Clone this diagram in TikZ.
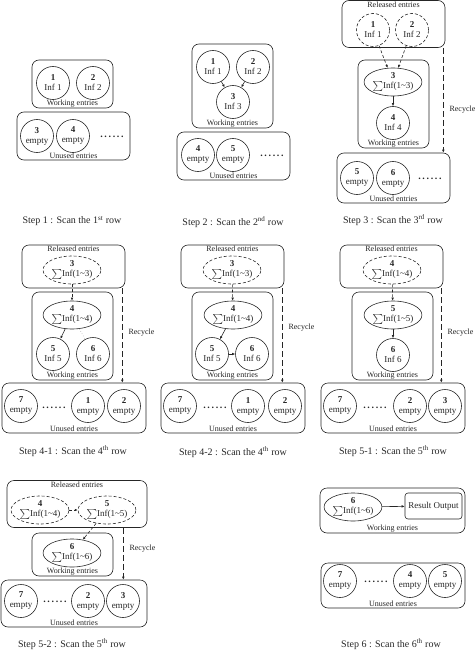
\documentclass[tikz,border=0pt]{standalone}
\usepackage{fontspec}
\setmainfont{Liberation Serif}
\usetikzlibrary{positioning,shapes.geometric,arrows.meta}

\begin{document}
\begin{tikzpicture}[x=1pt,y=-1pt,line width=0.6pt,black!85,
  box/.style={draw,rounded corners=7pt,inner sep=0pt},
  ent/.style={draw,circle,minimum size=33pt,inner sep=0pt,align=center,font=\fontsize{9}{10}\selectfont},
  gone/.style={ent,dash pattern=on 3pt off 2pt},
  sument/.style={draw,ellipse,minimum width=57pt,minimum height=28pt,inner sep=0pt,align=center,font=\fontsize{9}{10}\selectfont},
  gonesum/.style={sument,dash pattern=on 3pt off 2pt},
  lbl/.style={inner sep=1pt,font=\fontsize{8}{9}\selectfont},
  etc/.style={inner sep=0pt,font=\fontsize{10}{10}\selectfont\bfseries},
  arr/.style={-{Latex[length=3pt,width=2.6pt]}},
  darr/.style={arr,dash pattern=on 3pt off 2pt},
  recyc/.style={arr,dash pattern=on 6pt off 3pt},
  steptxt/.style={font=\fontsize{10}{12}\selectfont}]
\useasboundingbox (0,0) rectangle (474,650);
\node[box,minimum width=81pt,minimum height=48pt] (aW) at (72.5,84) {};
\node[lbl,above=0pt of aW.south] (aWl) {Working entries};
\node[ent] (a1) at (53,83) {\textbf{1}\\Inf 1};
\node[ent] (a2) at (93,83) {\textbf{2}\\Inf 2};
\node[box,minimum width=113pt,minimum height=48pt] (aU) at (73.5,136) {};
\node[lbl,above=0pt of aU.south] (aUl) {Unused entries};
\node[ent] (a3) at (37,136) {\textbf{3}\\empty};
\node[ent] (a4) at (73,136) {\textbf{4}\\empty};
\node[etc] (aE) at (112,137) {.\,.\,.\,.\,.\,.};
\node[steptxt] (aS) at (72,221) {Step 1 : Scan the 1\textsuperscript{st} row};

\node[box,minimum width=81pt,minimum height=84pt] (bW) at (232.5,86) {};
\node[lbl,above=0pt of bW.south] (bWl) {Working entries};
\node[ent] (b1) at (213,67) {\textbf{1}\\Inf 1};
\node[ent] (b2) at (253,67) {\textbf{2}\\Inf 2};
\node[ent] (b3) at (233,102) {\textbf{3}\\Inf 3};
\draw[arr] (b1) -- (b3);
\draw[arr] (b2) -- (b3);
\node[box,minimum width=113pt,minimum height=48pt] (bU) at (233.5,156) {};
\node[lbl,above=0pt of bU.south] (bUl) {Unused entries};
\node[ent] (b4) at (198,155) {\textbf{4}\\empty};
\node[ent] (b5) at (233,155) {\textbf{5}\\empty};
\node[etc] (bE) at (272,156) {.\,.\,.\,.\,.\,.};
\node[steptxt] (bS) at (233,222) {Step 2 : Scan the 2\textsuperscript{nd} row};

\node[box,minimum width=103pt,minimum height=47pt] (cR) at (393.5,24) {};
\node[lbl,below=0pt of cR.north] (cRl) {Released entries};
\node[gone] (c1) at (373,30) {\textbf{1}\\Inf 1};
\node[gone] (c2) at (412,30) {\textbf{2}\\Inf 2};
\node[box,minimum width=71pt,minimum height=88pt] (cW) at (393.5,104) {};
\node[lbl,above=0pt of cW.south] (cWl) {Working entries};
\node[sument] (c3) at (393,82) {\textbf{3}\\$\sum$Inf(1\textasciitilde3)};
\node[ent] (c4) at (393,123) {\textbf{4}\\Inf 4};
\draw[darr] (c1) -- (c3);
\draw[darr] (c2) -- (c3);
\draw[arr] (c3) -- (c4);
\node[box,minimum width=113pt,minimum height=50pt] (cU) at (393.5,178) {};
\node[lbl,above=0pt of cU.south] (cUl) {Unused entries};
\node[ent] (c5) at (357,178) {\textbf{5}\\empty};
\node[ent] (c6) at (393,178) {\textbf{6}\\empty};
\node[etc] (cE) at (430,179) {.\,.\,.\,.\,.\,.};
\coordinate (cT) at ([xshift=-2pt]cR.south east);
\draw[recyc] (cT) -- node[lbl,pos=.59,right=5pt] (cY) {Recycle} (cT |- cU.north);
\node[steptxt] (cS) at (393,220) {Step 3 : Scan the 3\textsuperscript{rd} row};

\node[box,minimum width=103pt,minimum height=43pt] (dR) at (73.5,266.5) {};
\node[lbl,below=0pt of dR.north] (dRl) {Released entries};
\node[gonesum] (d3) at (72,270) {\textbf{3}\\$\sum$Inf(1\textasciitilde3)};
\node[box,minimum width=81pt,minimum height=88pt] (dW) at (72.5,336) {};
\node[lbl,above=0pt of dW.south] (dWl) {Working entries};
\node[sument] (d4) at (72,315) {\textbf{4}\\$\sum$Inf(1\textasciitilde4)};
\node[ent] (d5) at (53,354) {\textbf{5}\\Inf 5};
\node[ent] (d6) at (93,354) {\textbf{6}\\Inf 6};
\draw[darr] (d3) -- (d4);
\draw[arr] (d4) -- (d5);
\draw[black!35,dotted] (d4) -- (d6);
\node[box,minimum width=144pt,minimum height=50pt] (dU) at (74,408) {};
\node[lbl,above=0pt of dU.south] (dUl) {Unused entries};
\node[ent] (d7) at (21,406) {\textbf{7}\\empty};
\node[etc] (dE) at (54,408) {.\,.\,.\,.\,.\,.};
\node[ent] (d1) at (88,406) {\textbf{1}\\empty};
\node[ent] (d2) at (124,406) {\textbf{2}\\empty};
\coordinate (dT) at ([xshift=-3pt]dR.south east);
\draw[recyc] (dT) -- node[lbl,pos=.47,right=5pt] (dY) {Recycle} (dT |- dU.north);
\node[steptxt] (dS) at (73,451) {Step 4-1 : Scan the 4\textsuperscript{th} row};

\node[box,minimum width=103pt,minimum height=43pt] (eR) at (232.5,266.5) {};
\node[lbl,below=0pt of eR.north] (eRl) {Released entries};
\node[gonesum] (e3) at (232,270) {\textbf{3}\\$\sum$Inf(1\textasciitilde3)};
\node[box,minimum width=81pt,minimum height=88pt] (eW) at (232.5,336) {};
\node[lbl,above=0pt of eW.south] (eWl) {Working entries};
\node[sument] (e4) at (233,315) {\textbf{4}\\$\sum$Inf(1\textasciitilde4)};
\node[ent] (e5) at (212,354) {\textbf{5}\\Inf 5};
\node[ent] (e6) at (252,354) {\textbf{6}\\Inf 6};
\draw[darr] (e3) -- (e4);
\draw[arr] (e4) -- (e5);
\draw[arr] (e5) -- (e6);
\node[box,minimum width=144pt,minimum height=50pt] (eU) at (233,408) {};
\node[lbl,above=0pt of eU.south] (eUl) {Unused entries};
\node[ent] (e7) at (180,406) {\textbf{7}\\empty};
\node[etc] (eE) at (215,408) {.\,.\,.\,.\,.\,.};
\node[ent] (e1) at (248,406) {\textbf{1}\\empty};
\node[ent] (e2) at (285,406) {\textbf{2}\\empty};
\coordinate (eT) at ([xshift=-2pt]eR.south east);
\draw[recyc] (eT) -- node[lbl,pos=.42,right=5pt] (eY) {Recycle} (eT |- eU.north);
\node[steptxt] (eS) at (233,452) {Step 4-2 : Scan the 4\textsuperscript{th} row};

\node[box,minimum width=103pt,minimum height=43pt] (fR) at (391.5,266.5) {};
\node[lbl,below=0pt of fR.north] (fRl) {Released entries};
\node[gonesum] (f4) at (392,270) {\textbf{4}\\$\sum$Inf(1\textasciitilde4)};
\node[box,minimum width=81pt,minimum height=88pt] (fW) at (392.5,336) {};
\node[lbl,above=0pt of fW.south] (fWl) {Working entries};
\node[sument] (f5) at (393,315) {\textbf{5}\\$\sum$Inf(1\textasciitilde5)};
\node[ent] (f6) at (393,355) {\textbf{6}\\Inf 6};
\draw[darr] (f4) -- (f5);
\draw[arr] (f5) -- (f6);
\node[box,minimum width=144pt,minimum height=50pt] (fU) at (393,408) {};
\node[lbl,above=0pt of fU.south] (fUl) {Unused entries};
\node[ent] (f7) at (340,406) {\textbf{7}\\empty};
\node[etc] (fE) at (375,408) {.\,.\,.\,.\,.\,.};
\node[ent] (f2) at (410,406) {\textbf{2}\\empty};
\node[ent] (f3) at (445,406) {\textbf{3}\\empty};
\coordinate (fT) at ([xshift=-2pt]fR.south east);
\draw[recyc] (fT) -- node[lbl,pos=.47,right=5pt] (fY) {Recycle} (fT |- fU.north);
\node[steptxt] (fS) at (393,451) {Step 5-1 : Scan the 5\textsuperscript{th} row};

\node[box,minimum width=140pt,minimum height=47pt] (gR) at (77,504) {};
\node[lbl,below=0pt of gR.north] (gRl) {Released entries};
\node[gonesum,minimum width=55pt] (g4) at (40,510) {\textbf{4}\\$\sum$Inf(1\textasciitilde4)};
\node[gonesum,minimum width=55pt] (g5) at (107,510) {\textbf{5}\\$\sum$Inf(1\textasciitilde5)};
\node[box,minimum width=81pt,minimum height=43pt] (gW) at (72.5,554.5) {};
\node[lbl,above=0pt of gW.south] (gWl) {Working entries};
\node[sument] (g6) at (72,553) {\textbf{6}\\$\sum$Inf(1\textasciitilde6)};
\draw[darr] (g4) -- (g5);
\draw[darr] (g5) -- (g6);
\node[box,minimum width=146pt,minimum height=47pt] (gU) at (74,603.5) {};
\node[lbl,above=0pt of gU.south] (gUl) {Unused entries};
\node[ent] (g7) at (21,601) {\textbf{7}\\empty};
\node[etc] (gE) at (55,602) {.\,.\,.\,.\,.\,.};
\node[ent] (g2) at (88,601) {\textbf{2}\\empty};
\node[ent] (g3) at (123,601) {\textbf{3}\\empty};
\coordinate (gT) at ([xshift=-24pt]gR.south east);
\draw[recyc] (gT) -- node[lbl,pos=.4,right=5pt] (gY) {Recycle} (gT |- gU.north);
\node[steptxt] (gS) at (72,644) {Step 5-2 : Scan the 5\textsuperscript{th} row};

\node[box,minimum width=145pt,minimum height=45pt] (hW) at (392.5,510.5) {};
\node[lbl,above=0pt of hW.south] (hWl) {Working entries};
\node[sument,minimum width=52pt] (h6) at (353,507) {\textbf{6}\\$\sum$Inf(1\textasciitilde6)};
\node[draw,rounded corners=3pt,minimum width=57pt,minimum height=26pt,font=\fontsize{9}{10}\selectfont] (hO) at (433.5,506) {Result Output};
\draw[arr] (h6) -- (hO);
\node[box,minimum width=144pt,minimum height=45pt] (hU) at (393,585.5) {};
\node[lbl,above=0pt of hU.south] (hUl) {Unused entries};
\node[ent] (h7) at (340,581) {\textbf{7}\\empty};
\node[etc] (hE) at (376,582) {.\,.\,.\,.\,.\,.};
\node[ent] (h4) at (410,581) {\textbf{4}\\empty};
\node[ent] (h5) at (445,581) {\textbf{5}\\empty};
\node[steptxt] (hS) at (391,644) {Step 6 : Scan the 6\textsuperscript{th} row};
\end{tikzpicture}
\end{document}
